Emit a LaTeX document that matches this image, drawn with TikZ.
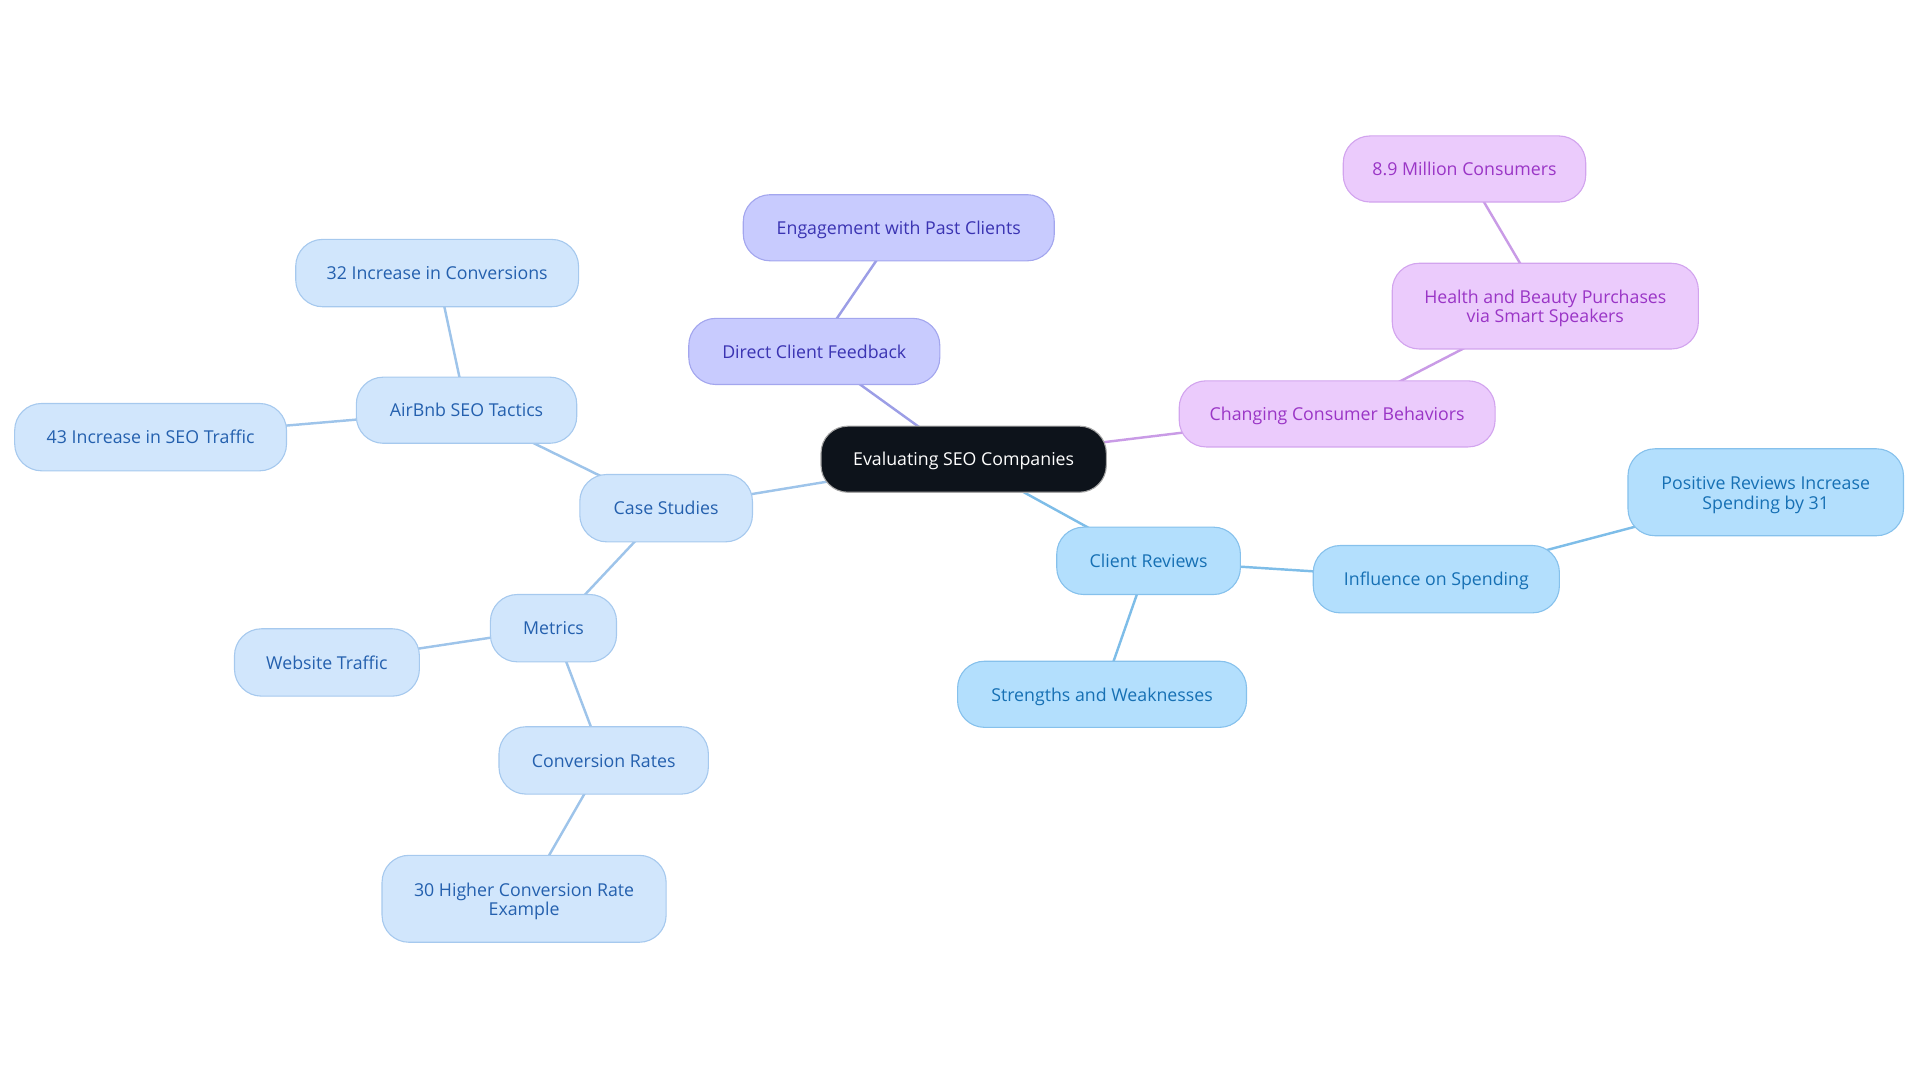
\documentclass[tikz,border=0pt]{standalone}
\usepackage{fontspec}
\setmainfont{Open Sans}
\usetikzlibrary{backgrounds}
\definecolor{rootfill}{HTML}{0D131B}
\definecolor{lavfill}{HTML}{C8CBFE}
\definecolor{lavdraw}{HTML}{A3A6EE}
\definecolor{lavtext}{HTML}{3A33B2}
\definecolor{laved}{HTML}{9C9EE6}
\definecolor{purfill}{HTML}{EBCBFC}
\definecolor{purdraw}{HTML}{D2A4EE}
\definecolor{purtext}{HTML}{9A35C6}
\definecolor{pured}{HTML}{C99BE6}
\definecolor{crfill}{HTML}{B3DFFD}
\definecolor{crdraw}{HTML}{86C1EC}
\definecolor{crtext}{HTML}{1670B4}
\definecolor{cred}{HTML}{7EBDE8}
\definecolor{csfill}{HTML}{D1E6FC}
\definecolor{csdraw}{HTML}{A6C9EE}
\definecolor{cstext}{HTML}{2460AE}
\definecolor{csed}{HTML}{9EC4EA}
\newcommand{\firststrut}{\rule{0pt}{15pt}}
\begin{document}
\begin{tikzpicture}[x=1pt,y=-1pt,
  box/.style={rectangle, rounded corners=22pt, line width=0.9pt, align=center, inner sep=0pt,
    font=\fontsize{14.5}{16}\selectfont},
  oneline/.style={text height=14.5pt, text depth=3.5pt},
  rootbox/.style={box, fill=rootfill, draw=gray!70, text=white},
  lavbox/.style={box, fill=lavfill, draw=lavdraw, text=lavtext},
  purbox/.style={box, fill=purfill, draw=purdraw, text=purtext},
  crbox/.style={box, fill=crfill, draw=crdraw, text=crtext},
  csbox/.style={box, fill=csfill, draw=csdraw, text=cstext},
  edge/.style={line width=2pt},
  sz/.style 2 args={minimum width=#1pt, minimum height=#2pt}
]
\useasboundingbox (0,0) rectangle (1568,884.4);

\node[rootbox, oneline, sz={233}{54}] (root) at (787,375) {Evaluating SEO Companies};

\node[lavbox, oneline, sz={205}{54}] (dcf) at (665,287) {Direct Client Feedback};
\node[lavbox, oneline, sz={254}{54}] (epc) at (734,186) {Engagement with Past Clients};

\node[purbox, oneline, sz={258}{54}] (ccb) at (1092,338) {Changing Consumer Behaviors};
\node[purbox, sz={250}{70}] (hb) at (1262,250) {\firststrut Health and Beauty Purchases\\via Smart Speakers};
\node[purbox, oneline, sz={198}{54}] (mil) at (1196,138) {8.9 Million Consumers};

\node[crbox, oneline, sz={150}{55}] (cr) at (938,458) {Client Reviews};
\node[crbox, oneline, sz={201}{55}] (ios) at (1173,473) {Influence on Spending};
\node[crbox, sz={225}{71}] (pr) at (1442,402) {\firststrut Positive Reviews Increase\\Spending by 31};
\node[crbox, oneline, sz={236}{54}] (sw) at (900,567) {Strengths and Weaknesses};

\node[csbox, oneline, sz={141}{55}] (cs) at (544,415) {Case Studies};
\node[csbox, oneline, sz={180}{54}] (air) at (381,335) {AirBnb SEO Tactics};
\node[csbox, oneline, sz={231}{55}] (c32) at (357,223) {32 Increase in Conversions};
\node[csbox, oneline, sz={222}{55}] (c43) at (123,357) {43 Increase in SEO Traffic};
\node[csbox, oneline, sz={103}{55}] (met) at (452,513) {Metrics};
\node[csbox, oneline, sz={151}{55}] (wt) at (267,541) {Website Traffic};
\node[csbox, oneline, sz={171}{55}] (conv) at (493,621) {Conversion Rates};
\node[csbox, sz={232}{71}] (c30) at (428,734) {\firststrut 30 Higher Conversion Rate\\Example};

\begin{scope}[on background layer]
\draw[edge, laved] (root.center) -- (dcf.center);
\draw[edge, laved] (dcf.center) -- (epc.center);
\draw[edge, pured] (root.center) -- (ccb.center);
\draw[edge, pured] (ccb.center) -- (hb.center);
\draw[edge, pured] (hb.center) -- (mil.center);
\draw[edge, cred] (root.center) -- (cr.center);
\draw[edge, cred] (cr.center) -- (ios.center);
\draw[edge, cred] (ios.center) -- (pr.center);
\draw[edge, cred] (cr.center) -- (sw.center);
\draw[edge, csed] (root.center) -- (cs.center);
\draw[edge, csed] (cs.center) -- (air.center);
\draw[edge, csed] (air.center) -- (c32.center);
\draw[edge, csed] (air.center) -- (c43.center);
\draw[edge, csed] (cs.center) -- (met.center);
\draw[edge, csed] (met.center) -- (wt.center);
\draw[edge, csed] (met.center) -- (conv.center);
\draw[edge, csed] (conv.center) -- (c30.center);
\end{scope}
\end{tikzpicture}
\end{document}
